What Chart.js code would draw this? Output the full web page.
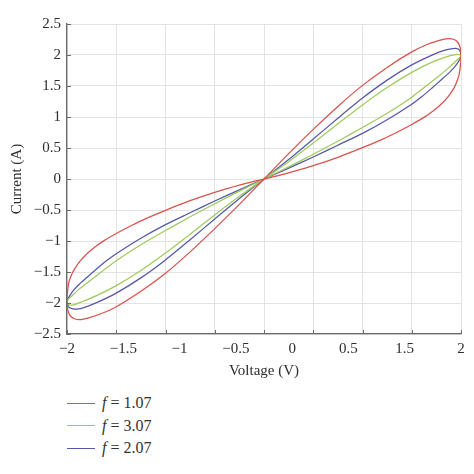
<!DOCTYPE html>
<html><head><meta charset="utf-8">
<script src="https://cdn.jsdelivr.net/npm/chart.js@4/dist/chart.umd.min.js"></script>
<style>
html,body{margin:0;padding:0;background:#fff;}
#wrap{position:relative;width:474px;height:474px;overflow:hidden;}
#c{position:absolute;left:0;top:0;}
#legend{position:absolute;left:67px;top:392px;font-family:"Liberation Serif","DejaVu Serif",serif;font-size:16px;color:#333;}
.row{display:flex;align-items:center;height:22.5px;white-space:nowrap;}
.sw{width:28px;height:0;border-top:1.3px solid;margin-right:7px;}
</style></head>
<body><div id="wrap"><canvas id="c" width="474" height="385"></canvas><div id="legend"></div></div>
<script>
// ---- data ----
const seriesNames = ['1.07', '3.07', '2.07'];
const seriesColors = ['#d8524d', '#9ecb5e', '#5558a8'];

// each loop: origin -> right outer branch -> right tip -> right inner branch -> origin
//            -> left inner branch -> left tip -> left outer branch -> origin
const loopF107 = [
  [0,0],[0.25,0.41],[0.5,0.80],[0.75,1.17],[1.0,1.51],[1.25,1.80],[1.5,2.05],[1.65,2.165],[1.78,2.235],[1.87,2.265],[1.93,2.25],[1.965,2.21],[1.985,2.15],[1.997,2.08],[2.0,2.0],
  [1.998,1.90],[1.99,1.78],[1.98,1.68],[1.955,1.56],[1.93,1.47],[1.87,1.33],[1.80,1.21],[1.72,1.10],[1.62,0.99],[1.5,0.88],[1.35,0.755],[1.2,0.64],[1.0,0.505],[0.75,0.35],[0.5,0.215],[0.25,0.10],[0,0],
  [-0.25,-0.10],[-0.5,-0.215],[-0.75,-0.35],[-1.0,-0.505],[-1.2,-0.64],[-1.35,-0.755],[-1.5,-0.88],[-1.62,-0.99],[-1.72,-1.10],[-1.80,-1.21],[-1.87,-1.33],[-1.93,-1.47],[-1.955,-1.55],[-1.98,-1.66],[-1.99,-1.76],[-1.998,-1.87],[-2.0,-1.97],
  [-1.997,-2.07],[-1.985,-2.15],[-1.965,-2.21],[-1.93,-2.25],[-1.87,-2.27],[-1.78,-2.24],[-1.65,-2.17],[-1.5,-2.06],[-1.25,-1.81],[-1.0,-1.52],[-0.75,-1.175],[-0.5,-0.80],[-0.25,-0.41],[0,0]
];
const loopF307 = [
  [0,0],[0.25,0.28],[0.5,0.58],[0.75,0.89],[1.0,1.195],[1.25,1.475],[1.5,1.72],[1.7,1.88],[1.85,1.97],[1.95,2.006],[2.0,2.0],
  [1.995,1.975],[1.96,1.92],[1.88,1.80],[1.75,1.63],[1.5,1.32],[1.25,1.06],[1.0,0.83],[0.75,0.61],[0.5,0.40],[0.25,0.195],[0,0],
  [-0.25,-0.195],[-0.5,-0.40],[-0.75,-0.61],[-1.0,-0.83],[-1.25,-1.06],[-1.5,-1.32],[-1.75,-1.62],[-1.88,-1.78],[-1.96,-1.90],[-1.995,-1.955],[-2.0,-1.97],
  [-1.985,-2.02],[-1.95,-2.035],[-1.85,-1.98],[-1.7,-1.88],[-1.5,-1.72],[-1.25,-1.475],[-1.0,-1.195],[-0.75,-0.89],[-0.5,-0.58],[-0.25,-0.28],[0,0]
];
const loopF207 = [
  [0,0],[0.25,0.315],[0.5,0.645],[0.75,0.98],[1.0,1.305],[1.25,1.595],[1.5,1.84],[1.7,1.995],[1.82,2.07],[1.9,2.10],[1.95,2.105],[1.985,2.08],[2.0,2.0],
  [1.995,1.955],[1.98,1.91],[1.955,1.85],[1.92,1.78],[1.87,1.70],[1.80,1.60],[1.70,1.46],[1.6,1.325],[1.5,1.205],[1.25,0.955],[1.0,0.735],[0.75,0.545],[0.5,0.355],[0.25,0.175],[0,0],
  [-0.25,-0.175],[-0.5,-0.355],[-0.75,-0.545],[-1.0,-0.735],[-1.25,-0.955],[-1.5,-1.205],[-1.6,-1.32],[-1.70,-1.45],[-1.80,-1.59],[-1.87,-1.69],[-1.92,-1.77],[-1.955,-1.84],[-1.98,-1.90],[-1.995,-1.94],[-2.0,-1.97],
  [-1.985,-2.06],[-1.95,-2.09],[-1.9,-2.10],[-1.82,-2.07],[-1.7,-1.995],[-1.5,-1.84],[-1.25,-1.595],[-1.0,-1.305],[-0.75,-0.98],[-0.5,-0.645],[-0.25,-0.315],[0,0]
];
const xTickLabels = ['\u22122','\u22121.5','\u22121','\u22120.5','0','0.5','1.5','2'];
const yTickLabels = ['\u22122.5','\u22122','\u22121.5','\u22121','\u22120.5','0','0.5','1','1.5','2','2.5'];
const xTitle = 'Voltage (V)';
const yTitle = 'Current (A)';

// ---- chart ----
const loops = [loopF107, loopF307, loopF207];
const FONT = {family: "'Liberation Serif','DejaVu Serif',serif", size: 15};
const TXT = '#2e2e2e';
const GRID = '#e3e3e3';
const AXIS = '#6a6a6a';

const datasets = loops.map((lp, i) => ({
  label: 'f = ' + seriesNames[i],
  data: lp.map(p => ({x: p[0], y: p[1]})),
  borderColor: seriesColors[i],
  backgroundColor: seriesColors[i],
  borderWidth: 1.25,
  pointRadius: 0,
  showLine: true,
  fill: false,
  tension: 0.25
}));

// small inward tick marks on the left and bottom axes
const innerTicks = {
  id: 'innerTicks',
  afterDatasetsDraw(chart) {
    const {ctx, chartArea: a, scales: {x, y}} = chart;
    ctx.save();
    ctx.strokeStyle = AXIS;
    ctx.lineWidth = 1;
    ctx.beginPath();
    x.ticks.forEach(t => {
      const px = Math.round(x.getPixelForValue(t.value)) + 0.5;
      ctx.moveTo(px, a.bottom); ctx.lineTo(px, a.bottom - 4);
    });
    y.ticks.forEach(t => {
      const py = Math.round(y.getPixelForValue(t.value)) + 0.5;
      ctx.moveTo(a.left, py); ctx.lineTo(a.left + 4, py);
    });
    ctx.stroke();
    ctx.restore();
  }
};

new Chart(document.getElementById('c'), {
  type: 'scatter',
  data: {datasets},
  plugins: [innerTicks],
  options: {
    responsive: false,
    animation: false,
    layout: {padding: {left: 0, right: 13, top: 24, bottom: 0}},
    plugins: {legend: {display: false}, tooltip: {enabled: false}},
    scales: {
      x: {
        type: 'linear', position: 'bottom', min: -2, max: 2,
        ticks: {display: false, stepSize: 0.5},
        grid: {color: GRID, drawTicks: false, lineWidth: 1},
        border: {display: true, color: AXIS, width: 1.3},
        afterFit(s) { s.height = 0; }
      },
      xl: {
        type: 'linear', position: 'bottom', min: -2, max: 2,
        grid: {display: false, drawTicks: false},
        border: {display: false},
        afterBuildTicks(s) {
          const n = xTickLabels.length - 1;
          s.ticks = xTickLabels.map((_, i) => ({value: -2 + i * 4 / n}));
        },
        ticks: {
          autoSkip: false, maxRotation: 0, minRotation: 0, padding: 6,
          font: FONT, color: TXT,
          callback: (v, i) => xTickLabels[i]
        },
        title: {display: true, text: xTitle, font: FONT, color: TXT, padding: {top: 0, bottom: 5}},
        afterFit(s) { s.height = 51; }
      },
      y: {
        type: 'linear', position: 'left', min: -2.5, max: 2.5,
        ticks: {stepSize: 0.5, padding: 6, font: FONT, color: TXT,
          callback: (v, i) => yTickLabels[i]},
        grid: {color: GRID, drawTicks: false, lineWidth: 1},
        border: {display: true, color: AXIS, width: 1.3},
        title: {display: true, text: yTitle, font: FONT, color: TXT, padding: {top: 8, bottom: 0}},
        afterFit(s) { s.width = 67; }
      }
    }
  }
});

// ---- HTML legend ----
const lg = document.getElementById('legend');
seriesNames.forEach((n, i) => {
  const r = document.createElement('div');
  r.className = 'row';
  r.innerHTML = '<span class="sw" style="border-color:' + seriesColors[i] + '"></span><span><i>f</i> = ' + n + '</span>';
  lg.appendChild(r);
});
</script>
</body></html>
